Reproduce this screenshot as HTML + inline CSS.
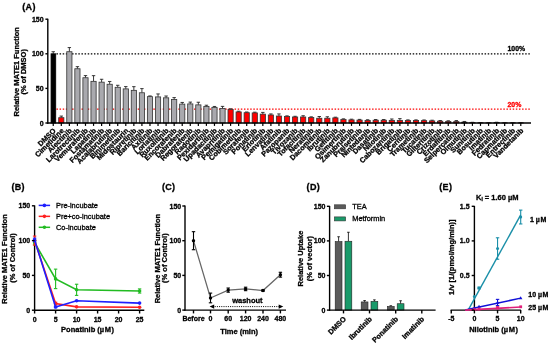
<!DOCTYPE html>
<html><head><meta charset="utf-8"><style>
html,body{margin:0;padding:0;background:#fff;width:550px;height:344px;overflow:hidden}
svg{display:block}
text{font-family:"Liberation Sans", Arial, Helvetica, sans-serif;stroke:currentColor;stroke-width:0.3px;paint-order:stroke}
</style></head><body>
<svg width="550" height="344" viewBox="0 0 550 344">
<rect width="550" height="344" fill="#fff"/>
<line x1="56.45" y1="53.80" x2="529.80" y2="53.80" stroke="#000" stroke-width="1.2" stroke-dasharray="1.5 1.625"/>
<line x1="56.45" y1="109.16" x2="529.80" y2="109.16" stroke="#ff0000" stroke-width="1.2" stroke-dasharray="1.5 1.625"/>
<text x="507.50" y="51.40" font-size="6.9" text-anchor="start" font-weight="bold" fill="#000" color="#000" >100%</text>
<text x="507.50" y="106.60" font-size="6.9" text-anchor="start" font-weight="bold" fill="#ff0000" color="#ff0000" >20%</text>
<line x1="53.24" y1="53.80" x2="53.24" y2="51.72" stroke="#222" stroke-width="0.9" />
<line x1="51.54" y1="51.72" x2="54.94" y2="51.72" stroke="#222" stroke-width="0.9" />
<rect x="51.04" y="53.80" width="4.70" height="69.20" fill="#000" stroke="#000" stroke-width="0.8"/>
<line x1="53.24" y1="123.00" x2="53.24" y2="125.90" stroke="#000" stroke-width="1.2" />
<text transform="translate(56.24,131.2) rotate(-45)" font-size="7.3" text-anchor="end" font-weight="bold">DMSO</text>
<line x1="61.30" y1="117.67" x2="61.30" y2="116.08" stroke="#222" stroke-width="0.9" />
<line x1="59.60" y1="116.08" x2="63.00" y2="116.08" stroke="#222" stroke-width="0.9" />
<rect x="58.70" y="117.67" width="5.20" height="5.33" fill="#ff0000" stroke="#333" stroke-width="0.8"/>
<line x1="61.30" y1="123.00" x2="61.30" y2="125.90" stroke="#000" stroke-width="1.2" />
<text transform="translate(64.30,131.2) rotate(-45)" font-size="7.3" text-anchor="end" font-weight="bold">Cimetidine</text>
<line x1="69.36" y1="51.72" x2="69.36" y2="47.57" stroke="#222" stroke-width="0.9" />
<line x1="67.66" y1="47.57" x2="71.06" y2="47.57" stroke="#222" stroke-width="0.9" />
<rect x="66.76" y="51.72" width="5.20" height="71.28" fill="#a9a9ae" stroke="#333" stroke-width="0.8"/>
<line x1="69.36" y1="123.00" x2="69.36" y2="125.90" stroke="#000" stroke-width="1.2" />
<text transform="translate(72.36,131.2) rotate(-45)" font-size="7.3" text-anchor="end" font-weight="bold">Alectinib</text>
<line x1="77.42" y1="68.75" x2="77.42" y2="66.67" stroke="#222" stroke-width="0.9" />
<line x1="75.72" y1="66.67" x2="79.12" y2="66.67" stroke="#222" stroke-width="0.9" />
<rect x="74.82" y="68.75" width="5.20" height="54.25" fill="#a9a9ae" stroke="#333" stroke-width="0.8"/>
<line x1="77.42" y1="123.00" x2="77.42" y2="125.90" stroke="#000" stroke-width="1.2" />
<text transform="translate(80.42,131.2) rotate(-45)" font-size="7.3" text-anchor="end" font-weight="bold">Larotrectinib</text>
<line x1="85.49" y1="77.74" x2="85.49" y2="75.60" stroke="#222" stroke-width="0.9" />
<line x1="83.79" y1="75.60" x2="87.19" y2="75.60" stroke="#222" stroke-width="0.9" />
<rect x="82.89" y="77.74" width="5.20" height="45.26" fill="#a9a9ae" stroke="#333" stroke-width="0.8"/>
<line x1="85.49" y1="123.00" x2="85.49" y2="125.90" stroke="#000" stroke-width="1.2" />
<text transform="translate(88.49,131.2) rotate(-45)" font-size="7.3" text-anchor="end" font-weight="bold">Vemurafenib</text>
<line x1="93.55" y1="81.34" x2="93.55" y2="75.67" stroke="#222" stroke-width="0.9" />
<line x1="91.85" y1="75.67" x2="95.25" y2="75.67" stroke="#222" stroke-width="0.9" />
<rect x="90.95" y="81.34" width="5.20" height="41.66" fill="#a9a9ae" stroke="#333" stroke-width="0.8"/>
<line x1="93.55" y1="123.00" x2="93.55" y2="125.90" stroke="#000" stroke-width="1.2" />
<text transform="translate(96.55,131.2) rotate(-45)" font-size="7.3" text-anchor="end" font-weight="bold">Lapatinib</text>
<line x1="101.61" y1="82.17" x2="101.61" y2="79.27" stroke="#222" stroke-width="0.9" />
<line x1="99.91" y1="79.27" x2="103.31" y2="79.27" stroke="#222" stroke-width="0.9" />
<rect x="99.01" y="82.17" width="5.20" height="40.83" fill="#a9a9ae" stroke="#333" stroke-width="0.8"/>
<line x1="101.61" y1="123.00" x2="101.61" y2="125.90" stroke="#000" stroke-width="1.2" />
<text transform="translate(104.61,131.2) rotate(-45)" font-size="7.3" text-anchor="end" font-weight="bold">Fostamatinib</text>
<line x1="109.67" y1="84.25" x2="109.67" y2="81.48" stroke="#222" stroke-width="0.9" />
<line x1="107.97" y1="81.48" x2="111.37" y2="81.48" stroke="#222" stroke-width="0.9" />
<rect x="107.07" y="84.25" width="5.20" height="38.75" fill="#a9a9ae" stroke="#333" stroke-width="0.8"/>
<line x1="109.67" y1="123.00" x2="109.67" y2="125.90" stroke="#000" stroke-width="1.2" />
<text transform="translate(112.67,131.2) rotate(-45)" font-size="7.3" text-anchor="end" font-weight="bold">Acalabrutinib</text>
<line x1="117.73" y1="87.29" x2="117.73" y2="85.29" stroke="#222" stroke-width="0.9" />
<line x1="116.03" y1="85.29" x2="119.43" y2="85.29" stroke="#222" stroke-width="0.9" />
<rect x="115.13" y="87.29" width="5.20" height="35.71" fill="#a9a9ae" stroke="#333" stroke-width="0.8"/>
<line x1="117.73" y1="123.00" x2="117.73" y2="125.90" stroke="#000" stroke-width="1.2" />
<text transform="translate(120.73,131.2) rotate(-45)" font-size="7.3" text-anchor="end" font-weight="bold">Binimetinib</text>
<line x1="125.79" y1="88.88" x2="125.79" y2="86.60" stroke="#222" stroke-width="0.9" />
<line x1="124.09" y1="86.60" x2="127.49" y2="86.60" stroke="#222" stroke-width="0.9" />
<rect x="123.19" y="88.88" width="5.20" height="34.12" fill="#a9a9ae" stroke="#333" stroke-width="0.8"/>
<line x1="125.79" y1="123.00" x2="125.79" y2="125.90" stroke="#000" stroke-width="1.2" />
<text transform="translate(128.79,131.2) rotate(-45)" font-size="7.3" text-anchor="end" font-weight="bold">Midostaurin</text>
<line x1="133.85" y1="90.34" x2="133.85" y2="86.67" stroke="#222" stroke-width="0.9" />
<line x1="132.15" y1="86.67" x2="135.55" y2="86.67" stroke="#222" stroke-width="0.9" />
<rect x="131.25" y="90.34" width="5.20" height="32.66" fill="#a9a9ae" stroke="#333" stroke-width="0.8"/>
<line x1="133.85" y1="123.00" x2="133.85" y2="125.90" stroke="#000" stroke-width="1.2" />
<text transform="translate(136.85,131.2) rotate(-45)" font-size="7.3" text-anchor="end" font-weight="bold">Ripretinib</text>
<line x1="141.92" y1="92.76" x2="141.92" y2="88.61" stroke="#222" stroke-width="0.9" />
<line x1="140.22" y1="88.61" x2="143.62" y2="88.61" stroke="#222" stroke-width="0.9" />
<rect x="139.32" y="92.76" width="5.20" height="30.24" fill="#a9a9ae" stroke="#333" stroke-width="0.8"/>
<line x1="141.92" y1="123.00" x2="141.92" y2="125.90" stroke="#000" stroke-width="1.2" />
<text transform="translate(144.92,131.2) rotate(-45)" font-size="7.3" text-anchor="end" font-weight="bold">Baricitinib</text>
<line x1="149.98" y1="96.63" x2="149.98" y2="95.94" stroke="#222" stroke-width="0.9" />
<line x1="148.28" y1="95.94" x2="151.68" y2="95.94" stroke="#222" stroke-width="0.9" />
<rect x="147.38" y="96.63" width="5.20" height="26.37" fill="#a9a9ae" stroke="#333" stroke-width="0.8"/>
<line x1="149.98" y1="123.00" x2="149.98" y2="125.90" stroke="#000" stroke-width="1.2" />
<text transform="translate(152.98,131.2) rotate(-45)" font-size="7.3" text-anchor="end" font-weight="bold">Axitinib</text>
<line x1="158.04" y1="96.91" x2="158.04" y2="93.94" stroke="#222" stroke-width="0.9" />
<line x1="156.34" y1="93.94" x2="159.74" y2="93.94" stroke="#222" stroke-width="0.9" />
<rect x="155.44" y="96.91" width="5.20" height="26.09" fill="#a9a9ae" stroke="#333" stroke-width="0.8"/>
<line x1="158.04" y1="123.00" x2="158.04" y2="125.90" stroke="#000" stroke-width="1.2" />
<text transform="translate(161.04,131.2) rotate(-45)" font-size="7.3" text-anchor="end" font-weight="bold">Lorlatinib</text>
<line x1="166.10" y1="97.81" x2="166.10" y2="96.01" stroke="#222" stroke-width="0.9" />
<line x1="164.40" y1="96.01" x2="167.80" y2="96.01" stroke="#222" stroke-width="0.9" />
<rect x="163.50" y="97.81" width="5.20" height="25.19" fill="#a9a9ae" stroke="#333" stroke-width="0.8"/>
<line x1="166.10" y1="123.00" x2="166.10" y2="125.90" stroke="#000" stroke-width="1.2" />
<text transform="translate(169.10,131.2) rotate(-45)" font-size="7.3" text-anchor="end" font-weight="bold">Ruxolitinib</text>
<line x1="174.16" y1="99.54" x2="174.16" y2="97.60" stroke="#222" stroke-width="0.9" />
<line x1="172.46" y1="97.60" x2="175.86" y2="97.60" stroke="#222" stroke-width="0.9" />
<rect x="171.56" y="99.54" width="5.20" height="23.46" fill="#a9a9ae" stroke="#333" stroke-width="0.8"/>
<line x1="174.16" y1="123.00" x2="174.16" y2="125.90" stroke="#000" stroke-width="1.2" />
<text transform="translate(177.16,131.2) rotate(-45)" font-size="7.3" text-anchor="end" font-weight="bold">Encorafenib</text>
<line x1="182.22" y1="104.11" x2="182.22" y2="102.45" stroke="#222" stroke-width="0.9" />
<line x1="180.52" y1="102.45" x2="183.92" y2="102.45" stroke="#222" stroke-width="0.9" />
<rect x="179.62" y="104.11" width="5.20" height="18.89" fill="#a9a9ae" stroke="#333" stroke-width="0.8"/>
<line x1="182.22" y1="123.00" x2="182.22" y2="125.90" stroke="#000" stroke-width="1.2" />
<text transform="translate(185.22,131.2) rotate(-45)" font-size="7.3" text-anchor="end" font-weight="bold">Dabrafenib</text>
<line x1="190.28" y1="103.90" x2="190.28" y2="102.10" stroke="#222" stroke-width="0.9" />
<line x1="188.58" y1="102.10" x2="191.98" y2="102.10" stroke="#222" stroke-width="0.9" />
<rect x="187.68" y="103.90" width="5.20" height="19.10" fill="#a9a9ae" stroke="#333" stroke-width="0.8"/>
<line x1="190.28" y1="123.00" x2="190.28" y2="125.90" stroke="#000" stroke-width="1.2" />
<text transform="translate(193.28,131.2) rotate(-45)" font-size="7.3" text-anchor="end" font-weight="bold">Regorafenib</text>
<line x1="198.34" y1="104.87" x2="198.34" y2="102.24" stroke="#222" stroke-width="0.9" />
<line x1="196.64" y1="102.24" x2="200.04" y2="102.24" stroke="#222" stroke-width="0.9" />
<rect x="195.74" y="104.87" width="5.20" height="18.13" fill="#a9a9ae" stroke="#333" stroke-width="0.8"/>
<line x1="198.34" y1="123.00" x2="198.34" y2="125.90" stroke="#000" stroke-width="1.2" />
<text transform="translate(201.34,131.2) rotate(-45)" font-size="7.3" text-anchor="end" font-weight="bold">Radotinib</text>
<line x1="206.41" y1="106.46" x2="206.41" y2="105.22" stroke="#222" stroke-width="0.9" />
<line x1="204.71" y1="105.22" x2="208.11" y2="105.22" stroke="#222" stroke-width="0.9" />
<rect x="203.81" y="106.46" width="5.20" height="16.54" fill="#a9a9ae" stroke="#333" stroke-width="0.8"/>
<line x1="206.41" y1="123.00" x2="206.41" y2="125.90" stroke="#000" stroke-width="1.2" />
<text transform="translate(209.41,131.2) rotate(-45)" font-size="7.3" text-anchor="end" font-weight="bold">Pexidartinib</text>
<line x1="214.47" y1="107.36" x2="214.47" y2="106.46" stroke="#222" stroke-width="0.9" />
<line x1="212.77" y1="106.46" x2="216.17" y2="106.46" stroke="#222" stroke-width="0.9" />
<rect x="211.87" y="107.36" width="5.20" height="15.64" fill="#a9a9ae" stroke="#333" stroke-width="0.8"/>
<line x1="214.47" y1="123.00" x2="214.47" y2="125.90" stroke="#000" stroke-width="1.2" />
<text transform="translate(217.47,131.2) rotate(-45)" font-size="7.3" text-anchor="end" font-weight="bold">Upadacitinib</text>
<line x1="222.53" y1="108.47" x2="222.53" y2="106.39" stroke="#222" stroke-width="0.9" />
<line x1="220.83" y1="106.39" x2="224.23" y2="106.39" stroke="#222" stroke-width="0.9" />
<rect x="219.93" y="108.47" width="5.20" height="14.53" fill="#a9a9ae" stroke="#333" stroke-width="0.8"/>
<line x1="222.53" y1="123.00" x2="222.53" y2="125.90" stroke="#000" stroke-width="1.2" />
<text transform="translate(225.53,131.2) rotate(-45)" font-size="7.3" text-anchor="end" font-weight="bold">Avapritinib</text>
<line x1="230.59" y1="109.51" x2="230.59" y2="108.81" stroke="#222" stroke-width="0.9" />
<line x1="228.89" y1="108.81" x2="232.29" y2="108.81" stroke="#222" stroke-width="0.9" />
<rect x="227.99" y="109.51" width="5.20" height="13.49" fill="#ff0000" stroke="#333" stroke-width="0.8"/>
<line x1="230.59" y1="123.00" x2="230.59" y2="125.90" stroke="#000" stroke-width="1.2" />
<text transform="translate(233.59,131.2) rotate(-45)" font-size="7.3" text-anchor="end" font-weight="bold">Pemigatinib</text>
<line x1="238.65" y1="111.93" x2="238.65" y2="111.24" stroke="#222" stroke-width="0.9" />
<line x1="236.95" y1="111.24" x2="240.35" y2="111.24" stroke="#222" stroke-width="0.9" />
<rect x="236.05" y="111.93" width="5.20" height="11.07" fill="#ff0000" stroke="#333" stroke-width="0.8"/>
<line x1="238.65" y1="123.00" x2="238.65" y2="125.90" stroke="#000" stroke-width="1.2" />
<text transform="translate(241.65,131.2) rotate(-45)" font-size="7.3" text-anchor="end" font-weight="bold">Cobimetinib</text>
<line x1="246.71" y1="112.69" x2="246.71" y2="112.00" stroke="#222" stroke-width="0.9" />
<line x1="245.01" y1="112.00" x2="248.41" y2="112.00" stroke="#222" stroke-width="0.9" />
<rect x="244.11" y="112.69" width="5.20" height="10.31" fill="#ff0000" stroke="#333" stroke-width="0.8"/>
<line x1="246.71" y1="123.00" x2="246.71" y2="125.90" stroke="#000" stroke-width="1.2" />
<text transform="translate(249.71,131.2) rotate(-45)" font-size="7.3" text-anchor="end" font-weight="bold">Sorafenib</text>
<line x1="254.77" y1="112.90" x2="254.77" y2="112.20" stroke="#222" stroke-width="0.9" />
<line x1="253.07" y1="112.20" x2="256.47" y2="112.20" stroke="#222" stroke-width="0.9" />
<rect x="252.17" y="112.90" width="5.20" height="10.10" fill="#ff0000" stroke="#333" stroke-width="0.8"/>
<line x1="254.77" y1="123.00" x2="254.77" y2="125.90" stroke="#000" stroke-width="1.2" />
<text transform="translate(257.77,131.2) rotate(-45)" font-size="7.3" text-anchor="end" font-weight="bold">Ponatinib</text>
<line x1="262.84" y1="114.14" x2="262.84" y2="112.41" stroke="#222" stroke-width="0.9" />
<line x1="261.14" y1="112.41" x2="264.54" y2="112.41" stroke="#222" stroke-width="0.9" />
<rect x="260.24" y="114.14" width="5.20" height="8.86" fill="#ff0000" stroke="#333" stroke-width="0.8"/>
<line x1="262.84" y1="123.00" x2="262.84" y2="125.90" stroke="#000" stroke-width="1.2" />
<text transform="translate(265.84,131.2) rotate(-45)" font-size="7.3" text-anchor="end" font-weight="bold">Erlotinib</text>
<line x1="270.90" y1="114.97" x2="270.90" y2="113.93" stroke="#222" stroke-width="0.9" />
<line x1="269.20" y1="113.93" x2="272.60" y2="113.93" stroke="#222" stroke-width="0.9" />
<rect x="268.30" y="114.97" width="5.20" height="8.03" fill="#ff0000" stroke="#333" stroke-width="0.8"/>
<line x1="270.90" y1="123.00" x2="270.90" y2="125.90" stroke="#000" stroke-width="1.2" />
<text transform="translate(273.90,131.2) rotate(-45)" font-size="7.3" text-anchor="end" font-weight="bold">Lenvatinib</text>
<line x1="278.96" y1="116.01" x2="278.96" y2="113.93" stroke="#222" stroke-width="0.9" />
<line x1="277.26" y1="113.93" x2="280.66" y2="113.93" stroke="#222" stroke-width="0.9" />
<rect x="276.36" y="116.01" width="5.20" height="6.99" fill="#ff0000" stroke="#333" stroke-width="0.8"/>
<line x1="278.96" y1="123.00" x2="278.96" y2="125.90" stroke="#000" stroke-width="1.2" />
<text transform="translate(281.96,131.2) rotate(-45)" font-size="7.3" text-anchor="end" font-weight="bold">Afatinib</text>
<line x1="287.02" y1="116.56" x2="287.02" y2="115.87" stroke="#222" stroke-width="0.9" />
<line x1="285.32" y1="115.87" x2="288.72" y2="115.87" stroke="#222" stroke-width="0.9" />
<rect x="284.42" y="116.56" width="5.20" height="6.44" fill="#ff0000" stroke="#333" stroke-width="0.8"/>
<line x1="287.02" y1="123.00" x2="287.02" y2="125.90" stroke="#000" stroke-width="1.2" />
<text transform="translate(290.02,131.2) rotate(-45)" font-size="7.3" text-anchor="end" font-weight="bold">Pazopanib</text>
<line x1="295.08" y1="116.98" x2="295.08" y2="116.29" stroke="#222" stroke-width="0.9" />
<line x1="293.38" y1="116.29" x2="296.78" y2="116.29" stroke="#222" stroke-width="0.9" />
<rect x="292.48" y="116.98" width="5.20" height="6.02" fill="#ff0000" stroke="#333" stroke-width="0.8"/>
<line x1="295.08" y1="123.00" x2="295.08" y2="125.90" stroke="#000" stroke-width="1.2" />
<text transform="translate(298.08,131.2) rotate(-45)" font-size="7.3" text-anchor="end" font-weight="bold">Tivozanib</text>
<line x1="303.14" y1="116.98" x2="303.14" y2="115.73" stroke="#222" stroke-width="0.9" />
<line x1="301.44" y1="115.73" x2="304.84" y2="115.73" stroke="#222" stroke-width="0.9" />
<rect x="300.54" y="116.98" width="5.20" height="6.02" fill="#ff0000" stroke="#333" stroke-width="0.8"/>
<line x1="303.14" y1="123.00" x2="303.14" y2="125.90" stroke="#000" stroke-width="1.2" />
<text transform="translate(306.14,131.2) rotate(-45)" font-size="7.3" text-anchor="end" font-weight="bold">Tofacitinib</text>
<line x1="311.20" y1="117.53" x2="311.20" y2="116.84" stroke="#222" stroke-width="0.9" />
<line x1="309.50" y1="116.84" x2="312.90" y2="116.84" stroke="#222" stroke-width="0.9" />
<rect x="308.60" y="117.53" width="5.20" height="5.47" fill="#ff0000" stroke="#333" stroke-width="0.8"/>
<line x1="311.20" y1="123.00" x2="311.20" y2="125.90" stroke="#000" stroke-width="1.2" />
<text transform="translate(314.20,131.2) rotate(-45)" font-size="7.3" text-anchor="end" font-weight="bold">Neratinib</text>
<line x1="319.27" y1="118.23" x2="319.27" y2="116.50" stroke="#222" stroke-width="0.9" />
<line x1="317.57" y1="116.50" x2="320.97" y2="116.50" stroke="#222" stroke-width="0.9" />
<rect x="316.67" y="118.23" width="5.20" height="4.77" fill="#ff0000" stroke="#333" stroke-width="0.8"/>
<line x1="319.27" y1="123.00" x2="319.27" y2="125.90" stroke="#000" stroke-width="1.2" />
<text transform="translate(322.27,131.2) rotate(-45)" font-size="7.3" text-anchor="end" font-weight="bold">Dacomitinib</text>
<line x1="327.33" y1="118.23" x2="327.33" y2="116.77" stroke="#222" stroke-width="0.9" />
<line x1="325.63" y1="116.77" x2="329.03" y2="116.77" stroke="#222" stroke-width="0.9" />
<rect x="324.73" y="118.23" width="5.20" height="4.77" fill="#ff0000" stroke="#333" stroke-width="0.8"/>
<line x1="327.33" y1="123.00" x2="327.33" y2="125.90" stroke="#000" stroke-width="1.2" />
<text transform="translate(330.33,131.2) rotate(-45)" font-size="7.3" text-anchor="end" font-weight="bold">Ibrutinib</text>
<line x1="335.39" y1="117.88" x2="335.39" y2="117.19" stroke="#222" stroke-width="0.9" />
<line x1="333.69" y1="117.19" x2="337.09" y2="117.19" stroke="#222" stroke-width="0.9" />
<rect x="332.79" y="117.88" width="5.20" height="5.12" fill="#ff0000" stroke="#333" stroke-width="0.8"/>
<line x1="335.39" y1="123.00" x2="335.39" y2="125.90" stroke="#000" stroke-width="1.2" />
<text transform="translate(338.39,131.2) rotate(-45)" font-size="7.3" text-anchor="end" font-weight="bold">Gefitinib</text>
<line x1="343.45" y1="119.54" x2="343.45" y2="118.85" stroke="#222" stroke-width="0.9" />
<line x1="341.75" y1="118.85" x2="345.15" y2="118.85" stroke="#222" stroke-width="0.9" />
<rect x="340.85" y="119.54" width="5.20" height="3.46" fill="#ff0000" stroke="#333" stroke-width="0.8"/>
<line x1="343.45" y1="123.00" x2="343.45" y2="125.90" stroke="#000" stroke-width="1.2" />
<text transform="translate(346.45,131.2) rotate(-45)" font-size="7.3" text-anchor="end" font-weight="bold">Osimertinib</text>
<line x1="351.51" y1="119.89" x2="351.51" y2="119.19" stroke="#222" stroke-width="0.9" />
<line x1="349.81" y1="119.19" x2="353.21" y2="119.19" stroke="#222" stroke-width="0.9" />
<rect x="348.91" y="119.89" width="5.20" height="3.11" fill="#ff0000" stroke="#333" stroke-width="0.8"/>
<line x1="351.51" y1="123.00" x2="351.51" y2="125.90" stroke="#000" stroke-width="1.2" />
<text transform="translate(354.51,131.2) rotate(-45)" font-size="7.3" text-anchor="end" font-weight="bold">Zanubrutinib</text>
<line x1="359.57" y1="120.09" x2="359.57" y2="119.40" stroke="#222" stroke-width="0.9" />
<line x1="357.87" y1="119.40" x2="361.27" y2="119.40" stroke="#222" stroke-width="0.9" />
<rect x="356.97" y="120.09" width="5.20" height="2.91" fill="#ff0000" stroke="#333" stroke-width="0.8"/>
<line x1="359.57" y1="123.00" x2="359.57" y2="125.90" stroke="#000" stroke-width="1.2" />
<text transform="translate(362.57,131.2) rotate(-45)" font-size="7.3" text-anchor="end" font-weight="bold">Pralsetinib</text>
<line x1="367.63" y1="120.44" x2="367.63" y2="119.75" stroke="#222" stroke-width="0.9" />
<line x1="365.93" y1="119.75" x2="369.33" y2="119.75" stroke="#222" stroke-width="0.9" />
<rect x="365.03" y="120.44" width="5.20" height="2.56" fill="#ff0000" stroke="#333" stroke-width="0.8"/>
<line x1="367.63" y1="123.00" x2="367.63" y2="125.90" stroke="#000" stroke-width="1.2" />
<text transform="translate(370.63,131.2) rotate(-45)" font-size="7.3" text-anchor="end" font-weight="bold">Nintedanib</text>
<line x1="375.70" y1="120.23" x2="375.70" y2="119.54" stroke="#222" stroke-width="0.9" />
<line x1="374.00" y1="119.54" x2="377.40" y2="119.54" stroke="#222" stroke-width="0.9" />
<rect x="373.10" y="120.23" width="5.20" height="2.77" fill="#ff0000" stroke="#333" stroke-width="0.8"/>
<line x1="375.70" y1="123.00" x2="375.70" y2="125.90" stroke="#000" stroke-width="1.2" />
<text transform="translate(378.70,131.2) rotate(-45)" font-size="7.3" text-anchor="end" font-weight="bold">Dasatinib</text>
<line x1="383.76" y1="120.23" x2="383.76" y2="119.54" stroke="#222" stroke-width="0.9" />
<line x1="382.06" y1="119.54" x2="385.46" y2="119.54" stroke="#222" stroke-width="0.9" />
<rect x="381.16" y="120.23" width="5.20" height="2.77" fill="#ff0000" stroke="#333" stroke-width="0.8"/>
<line x1="383.76" y1="123.00" x2="383.76" y2="125.90" stroke="#000" stroke-width="1.2" />
<text transform="translate(386.76,131.2) rotate(-45)" font-size="7.3" text-anchor="end" font-weight="bold">Nilotinib</text>
<line x1="391.82" y1="120.37" x2="391.82" y2="118.99" stroke="#222" stroke-width="0.9" />
<line x1="390.12" y1="118.99" x2="393.52" y2="118.99" stroke="#222" stroke-width="0.9" />
<rect x="389.22" y="120.37" width="5.20" height="2.63" fill="#ff0000" stroke="#333" stroke-width="0.8"/>
<line x1="391.82" y1="123.00" x2="391.82" y2="125.90" stroke="#000" stroke-width="1.2" />
<text transform="translate(394.82,131.2) rotate(-45)" font-size="7.3" text-anchor="end" font-weight="bold">Cabozantinib</text>
<line x1="399.88" y1="120.37" x2="399.88" y2="118.64" stroke="#222" stroke-width="0.9" />
<line x1="398.18" y1="118.64" x2="401.58" y2="118.64" stroke="#222" stroke-width="0.9" />
<rect x="397.28" y="120.37" width="5.20" height="2.63" fill="#ff0000" stroke="#333" stroke-width="0.8"/>
<line x1="399.88" y1="123.00" x2="399.88" y2="125.90" stroke="#000" stroke-width="1.2" />
<text transform="translate(402.88,131.2) rotate(-45)" font-size="7.3" text-anchor="end" font-weight="bold">Brigatinib</text>
<line x1="407.94" y1="120.58" x2="407.94" y2="119.89" stroke="#222" stroke-width="0.9" />
<line x1="406.24" y1="119.89" x2="409.64" y2="119.89" stroke="#222" stroke-width="0.9" />
<rect x="405.34" y="120.58" width="5.20" height="2.42" fill="#ff0000" stroke="#333" stroke-width="0.8"/>
<line x1="407.94" y1="123.00" x2="407.94" y2="125.90" stroke="#000" stroke-width="1.2" />
<text transform="translate(410.94,131.2) rotate(-45)" font-size="7.3" text-anchor="end" font-weight="bold">Ceritinib</text>
<line x1="416.00" y1="120.58" x2="416.00" y2="119.89" stroke="#222" stroke-width="0.9" />
<line x1="414.30" y1="119.89" x2="417.70" y2="119.89" stroke="#222" stroke-width="0.9" />
<rect x="413.40" y="120.58" width="5.20" height="2.42" fill="#ff0000" stroke="#333" stroke-width="0.8"/>
<line x1="416.00" y1="123.00" x2="416.00" y2="125.90" stroke="#000" stroke-width="1.2" />
<text transform="translate(419.00,131.2) rotate(-45)" font-size="7.3" text-anchor="end" font-weight="bold">Trametinib</text>
<line x1="424.06" y1="120.65" x2="424.06" y2="119.96" stroke="#222" stroke-width="0.9" />
<line x1="422.36" y1="119.96" x2="425.76" y2="119.96" stroke="#222" stroke-width="0.9" />
<rect x="421.46" y="120.65" width="5.20" height="2.35" fill="#ff0000" stroke="#333" stroke-width="0.8"/>
<line x1="424.06" y1="123.00" x2="424.06" y2="125.90" stroke="#000" stroke-width="1.2" />
<text transform="translate(427.06,131.2) rotate(-45)" font-size="7.3" text-anchor="end" font-weight="bold">Tucatinib</text>
<line x1="432.12" y1="120.92" x2="432.12" y2="120.23" stroke="#222" stroke-width="0.9" />
<line x1="430.42" y1="120.23" x2="433.82" y2="120.23" stroke="#222" stroke-width="0.9" />
<rect x="429.52" y="120.92" width="5.20" height="2.08" fill="#ff0000" stroke="#333" stroke-width="0.8"/>
<line x1="432.12" y1="123.00" x2="432.12" y2="125.90" stroke="#000" stroke-width="1.2" />
<text transform="translate(435.12,131.2) rotate(-45)" font-size="7.3" text-anchor="end" font-weight="bold">Gilteritinib</text>
<line x1="440.19" y1="121.20" x2="440.19" y2="120.51" stroke="#222" stroke-width="0.9" />
<line x1="438.49" y1="120.51" x2="441.89" y2="120.51" stroke="#222" stroke-width="0.9" />
<rect x="437.59" y="121.20" width="5.20" height="1.80" fill="#ff0000" stroke="#333" stroke-width="0.8"/>
<line x1="440.19" y1="123.00" x2="440.19" y2="125.90" stroke="#000" stroke-width="1.2" />
<text transform="translate(443.19,131.2) rotate(-45)" font-size="7.3" text-anchor="end" font-weight="bold">Crizotinib</text>
<line x1="448.25" y1="121.48" x2="448.25" y2="120.79" stroke="#222" stroke-width="0.9" />
<line x1="446.55" y1="120.79" x2="449.95" y2="120.79" stroke="#222" stroke-width="0.9" />
<rect x="445.65" y="121.48" width="5.20" height="1.52" fill="#ff0000" stroke="#333" stroke-width="0.8"/>
<line x1="448.25" y1="123.00" x2="448.25" y2="125.90" stroke="#000" stroke-width="1.2" />
<text transform="translate(451.25,131.2) rotate(-45)" font-size="7.3" text-anchor="end" font-weight="bold">Erdafitinib</text>
<line x1="456.31" y1="121.62" x2="456.31" y2="120.58" stroke="#222" stroke-width="0.9" />
<line x1="454.61" y1="120.58" x2="458.01" y2="120.58" stroke="#222" stroke-width="0.9" />
<rect x="453.71" y="121.62" width="5.20" height="1.38" fill="#ff0000" stroke="#333" stroke-width="0.8"/>
<line x1="456.31" y1="123.00" x2="456.31" y2="125.90" stroke="#000" stroke-width="1.2" />
<text transform="translate(459.31,131.2) rotate(-45)" font-size="7.3" text-anchor="end" font-weight="bold">Selpercatinib</text>
<line x1="464.37" y1="122.17" x2="464.37" y2="121.48" stroke="#222" stroke-width="0.9" />
<line x1="462.67" y1="121.48" x2="466.07" y2="121.48" stroke="#222" stroke-width="0.9" />
<rect x="461.77" y="122.17" width="5.20" height="0.83" fill="#ff0000" stroke="#333" stroke-width="0.8"/>
<line x1="464.37" y1="123.00" x2="464.37" y2="125.90" stroke="#000" stroke-width="1.2" />
<text transform="translate(467.37,131.2) rotate(-45)" font-size="7.3" text-anchor="end" font-weight="bold">Olmutinib</text>
<line x1="472.43" y1="122.65" x2="472.43" y2="122.31" stroke="#222" stroke-width="0.9" />
<line x1="470.73" y1="122.31" x2="474.13" y2="122.31" stroke="#222" stroke-width="0.9" />
<rect x="469.83" y="122.65" width="5.20" height="0.35" fill="#ff0000" stroke="#333" stroke-width="0.8"/>
<line x1="472.43" y1="123.00" x2="472.43" y2="125.90" stroke="#000" stroke-width="1.2" />
<text transform="translate(475.43,131.2) rotate(-45)" font-size="7.3" text-anchor="end" font-weight="bold">Sunitinib</text>
<line x1="480.49" y1="122.79" x2="480.49" y2="122.58" stroke="#222" stroke-width="0.9" />
<line x1="478.79" y1="122.58" x2="482.19" y2="122.58" stroke="#222" stroke-width="0.9" />
<rect x="477.89" y="122.79" width="5.20" height="0.21" fill="#ff0000" stroke="#333" stroke-width="0.8"/>
<line x1="480.49" y1="123.00" x2="480.49" y2="125.90" stroke="#000" stroke-width="1.2" />
<text transform="translate(483.49,131.2) rotate(-45)" font-size="7.3" text-anchor="end" font-weight="bold">Bosutinib</text>
<line x1="488.55" y1="122.86" x2="488.55" y2="122.72" stroke="#222" stroke-width="0.9" />
<line x1="486.85" y1="122.72" x2="490.25" y2="122.72" stroke="#222" stroke-width="0.9" />
<rect x="485.95" y="122.86" width="5.20" height="0.14" fill="#ff0000" stroke="#333" stroke-width="0.8"/>
<line x1="488.55" y1="123.00" x2="488.55" y2="125.90" stroke="#000" stroke-width="1.2" />
<text transform="translate(491.55,131.2) rotate(-45)" font-size="7.3" text-anchor="end" font-weight="bold">Imatinib</text>
<line x1="496.62" y1="122.58" x2="496.62" y2="122.24" stroke="#222" stroke-width="0.9" />
<line x1="494.92" y1="122.24" x2="498.32" y2="122.24" stroke="#222" stroke-width="0.9" />
<rect x="494.02" y="122.58" width="5.20" height="0.42" fill="#ff0000" stroke="#333" stroke-width="0.8"/>
<line x1="496.62" y1="123.00" x2="496.62" y2="125.90" stroke="#000" stroke-width="1.2" />
<text transform="translate(499.62,131.2) rotate(-45)" font-size="7.3" text-anchor="end" font-weight="bold">Fedratinib</text>
<line x1="504.68" y1="122.86" x2="504.68" y2="122.72" stroke="#222" stroke-width="0.9" />
<line x1="502.98" y1="122.72" x2="506.38" y2="122.72" stroke="#222" stroke-width="0.9" />
<rect x="502.08" y="122.86" width="5.20" height="0.14" fill="#ff0000" stroke="#333" stroke-width="0.8"/>
<line x1="504.68" y1="123.00" x2="504.68" y2="125.90" stroke="#000" stroke-width="1.2" />
<text transform="translate(507.68,131.2) rotate(-45)" font-size="7.3" text-anchor="end" font-weight="bold">Capmatinib</text>
<line x1="512.74" y1="122.86" x2="512.74" y2="122.72" stroke="#222" stroke-width="0.9" />
<line x1="511.04" y1="122.72" x2="514.44" y2="122.72" stroke="#222" stroke-width="0.9" />
<rect x="510.14" y="122.86" width="5.20" height="0.14" fill="#ff0000" stroke="#333" stroke-width="0.8"/>
<line x1="512.74" y1="123.00" x2="512.74" y2="125.90" stroke="#000" stroke-width="1.2" />
<text transform="translate(515.74,131.2) rotate(-45)" font-size="7.3" text-anchor="end" font-weight="bold">Entrectinib</text>
<line x1="520.80" y1="122.86" x2="520.80" y2="122.72" stroke="#222" stroke-width="0.9" />
<line x1="519.10" y1="122.72" x2="522.50" y2="122.72" stroke="#222" stroke-width="0.9" />
<rect x="518.20" y="122.86" width="5.20" height="0.14" fill="#ff0000" stroke="#333" stroke-width="0.8"/>
<line x1="520.80" y1="123.00" x2="520.80" y2="125.90" stroke="#000" stroke-width="1.2" />
<text transform="translate(523.80,131.2) rotate(-45)" font-size="7.3" text-anchor="end" font-weight="bold">Vandetanib</text>
<line x1="47.80" y1="18.80" x2="47.80" y2="123.65" stroke="#000" stroke-width="1.4" />
<line x1="47.15" y1="123.00" x2="531.00" y2="123.00" stroke="#000" stroke-width="1.4" />
<line x1="45.40" y1="123.00" x2="47.80" y2="123.00" stroke="#000" stroke-width="1.4" />
<text x="43.60" y="125.55" font-size="7.0" text-anchor="end" font-weight="bold" fill="#000" color="#000" >0</text>
<line x1="45.40" y1="88.40" x2="47.80" y2="88.40" stroke="#000" stroke-width="1.4" />
<text x="43.60" y="90.95" font-size="7.0" text-anchor="end" font-weight="bold" fill="#000" color="#000" >50</text>
<line x1="45.40" y1="53.80" x2="47.80" y2="53.80" stroke="#000" stroke-width="1.4" />
<text x="43.60" y="56.35" font-size="7.0" text-anchor="end" font-weight="bold" fill="#000" color="#000" >100</text>
<line x1="45.40" y1="19.20" x2="47.80" y2="19.20" stroke="#000" stroke-width="1.4" />
<text x="43.60" y="21.75" font-size="7.0" text-anchor="end" font-weight="bold" fill="#000" color="#000" >150</text>
<text transform="translate(18.6,71.8) rotate(-90)" font-size="7.5" text-anchor="middle" font-weight="bold">Relative MATE1 Function</text>
<text transform="translate(25.8,71.8) rotate(-90)" font-size="7.5" text-anchor="middle" font-weight="bold">(% of DMSO)</text>
<text x="22.30" y="9.90" font-size="9.0" text-anchor="start" font-weight="bold" fill="#000" color="#000" letter-spacing="0.3">(A)</text>
<text x="11.40" y="190.40" font-size="9.0" text-anchor="start" font-weight="bold" fill="#000" color="#000" letter-spacing="0.3">(B)</text>
<line x1="38.70" y1="205.40" x2="50.10" y2="205.40" stroke="#1f1fff" stroke-width="1.5" />
<circle cx="44.4" cy="205.40" r="1.8" fill="#1f1fff"/>
<text x="56.00" y="208.00" font-size="7.4" text-anchor="start" font-weight="normal" fill="#000" color="#000" >Pre-incubate</text>
<line x1="38.70" y1="216.35" x2="50.10" y2="216.35" stroke="#ff2020" stroke-width="1.5" />
<circle cx="44.4" cy="216.35" r="1.8" fill="#ff2020"/>
<text x="56.00" y="218.95" font-size="7.4" text-anchor="start" font-weight="normal" fill="#000" color="#000" >Pre+co-incubate</text>
<line x1="38.70" y1="227.30" x2="50.10" y2="227.30" stroke="#22bb22" stroke-width="1.5" />
<circle cx="44.4" cy="227.30" r="1.8" fill="#22bb22"/>
<text x="56.00" y="229.90" font-size="7.4" text-anchor="start" font-weight="normal" fill="#000" color="#000" >Co-incubate</text>
<line x1="34.60" y1="205.40" x2="34.60" y2="310.85" stroke="#000" stroke-width="1.4" />
<line x1="33.95" y1="310.20" x2="144.30" y2="310.20" stroke="#000" stroke-width="1.4" />
<polyline points="34.60,242.69 55.60,278.88 76.60,289.81 139.60,290.99" fill="none" stroke="#22bb22" stroke-width="1.6"/>
<line x1="34.60" y1="240.60" x2="34.60" y2="244.78" stroke="#22bb22" stroke-width="1.1" />
<line x1="32.90" y1="240.60" x2="36.30" y2="240.60" stroke="#22bb22" stroke-width="1.1" />
<line x1="32.90" y1="244.78" x2="36.30" y2="244.78" stroke="#22bb22" stroke-width="1.1" />
<line x1="55.60" y1="269.14" x2="55.60" y2="288.62" stroke="#22bb22" stroke-width="1.1" />
<line x1="53.90" y1="269.14" x2="57.30" y2="269.14" stroke="#22bb22" stroke-width="1.1" />
<line x1="53.90" y1="288.62" x2="57.30" y2="288.62" stroke="#22bb22" stroke-width="1.1" />
<line x1="76.60" y1="284.24" x2="76.60" y2="295.38" stroke="#22bb22" stroke-width="1.1" />
<line x1="74.90" y1="284.24" x2="78.30" y2="284.24" stroke="#22bb22" stroke-width="1.1" />
<line x1="74.90" y1="295.38" x2="78.30" y2="295.38" stroke="#22bb22" stroke-width="1.1" />
<line x1="139.60" y1="288.90" x2="139.60" y2="293.08" stroke="#22bb22" stroke-width="1.1" />
<line x1="137.90" y1="288.90" x2="141.30" y2="288.90" stroke="#22bb22" stroke-width="1.1" />
<line x1="137.90" y1="293.08" x2="141.30" y2="293.08" stroke="#22bb22" stroke-width="1.1" />
<circle cx="34.60" cy="242.69" r="1.8" fill="#22bb22"/>
<circle cx="55.60" cy="278.88" r="1.8" fill="#22bb22"/>
<circle cx="76.60" cy="289.81" r="1.8" fill="#22bb22"/>
<circle cx="139.60" cy="290.99" r="1.8" fill="#22bb22"/>
<polyline points="34.60,240.60 55.60,303.59 76.60,306.86 139.60,307.21" fill="none" stroke="#ff2020" stroke-width="1.6"/>
<line x1="34.60" y1="236.08" x2="34.60" y2="245.12" stroke="#ff2020" stroke-width="1.1" />
<line x1="32.90" y1="236.08" x2="36.30" y2="236.08" stroke="#ff2020" stroke-width="1.1" />
<line x1="32.90" y1="245.12" x2="36.30" y2="245.12" stroke="#ff2020" stroke-width="1.1" />
<line x1="55.60" y1="302.20" x2="55.60" y2="304.98" stroke="#ff2020" stroke-width="1.1" />
<line x1="53.90" y1="302.20" x2="57.30" y2="302.20" stroke="#ff2020" stroke-width="1.1" />
<line x1="53.90" y1="304.98" x2="57.30" y2="304.98" stroke="#ff2020" stroke-width="1.1" />
<circle cx="34.60" cy="240.60" r="1.8" fill="#ff2020"/>
<circle cx="55.60" cy="303.59" r="1.8" fill="#ff2020"/>
<circle cx="76.60" cy="306.86" r="1.8" fill="#ff2020"/>
<circle cx="139.60" cy="307.21" r="1.8" fill="#ff2020"/>
<polyline points="34.60,239.90 55.60,307.07 76.60,300.73 139.60,303.10" fill="none" stroke="#1f1fff" stroke-width="1.6"/>
<line x1="34.60" y1="238.16" x2="34.60" y2="241.64" stroke="#1f1fff" stroke-width="1.1" />
<line x1="32.90" y1="238.16" x2="36.30" y2="238.16" stroke="#1f1fff" stroke-width="1.1" />
<line x1="32.90" y1="241.64" x2="36.30" y2="241.64" stroke="#1f1fff" stroke-width="1.1" />
<line x1="55.60" y1="306.37" x2="55.60" y2="307.76" stroke="#1f1fff" stroke-width="1.1" />
<line x1="53.90" y1="306.37" x2="57.30" y2="306.37" stroke="#1f1fff" stroke-width="1.1" />
<line x1="53.90" y1="307.76" x2="57.30" y2="307.76" stroke="#1f1fff" stroke-width="1.1" />
<circle cx="34.60" cy="239.90" r="1.8" fill="#1f1fff"/>
<circle cx="55.60" cy="307.07" r="1.8" fill="#1f1fff"/>
<circle cx="76.60" cy="300.73" r="1.8" fill="#1f1fff"/>
<circle cx="139.60" cy="303.10" r="1.8" fill="#1f1fff"/>
<line x1="31.90" y1="310.20" x2="34.60" y2="310.20" stroke="#000" stroke-width="1.4" />
<text x="30.20" y="312.75" font-size="7.0" text-anchor="end" font-weight="bold" fill="#000" color="#000" >0</text>
<line x1="31.90" y1="275.40" x2="34.60" y2="275.40" stroke="#000" stroke-width="1.4" />
<text x="30.20" y="277.95" font-size="7.0" text-anchor="end" font-weight="bold" fill="#000" color="#000" >50</text>
<line x1="31.90" y1="240.60" x2="34.60" y2="240.60" stroke="#000" stroke-width="1.4" />
<text x="30.20" y="243.15" font-size="7.0" text-anchor="end" font-weight="bold" fill="#000" color="#000" >100</text>
<line x1="31.90" y1="205.80" x2="34.60" y2="205.80" stroke="#000" stroke-width="1.4" />
<text x="30.20" y="208.35" font-size="7.0" text-anchor="end" font-weight="bold" fill="#000" color="#000" >150</text>
<line x1="34.60" y1="310.20" x2="34.60" y2="313.50" stroke="#000" stroke-width="1.4" />
<text x="34.60" y="322.00" font-size="7.0" text-anchor="middle" font-weight="bold" fill="#000" color="#000" >0</text>
<line x1="55.60" y1="310.20" x2="55.60" y2="313.50" stroke="#000" stroke-width="1.4" />
<text x="55.60" y="322.00" font-size="7.0" text-anchor="middle" font-weight="bold" fill="#000" color="#000" >5</text>
<line x1="76.60" y1="310.20" x2="76.60" y2="313.50" stroke="#000" stroke-width="1.4" />
<text x="76.60" y="322.00" font-size="7.0" text-anchor="middle" font-weight="bold" fill="#000" color="#000" >10</text>
<line x1="97.60" y1="310.20" x2="97.60" y2="313.50" stroke="#000" stroke-width="1.4" />
<text x="97.60" y="322.00" font-size="7.0" text-anchor="middle" font-weight="bold" fill="#000" color="#000" >15</text>
<line x1="118.60" y1="310.20" x2="118.60" y2="313.50" stroke="#000" stroke-width="1.4" />
<text x="118.60" y="322.00" font-size="7.0" text-anchor="middle" font-weight="bold" fill="#000" color="#000" >20</text>
<line x1="139.60" y1="310.20" x2="139.60" y2="313.50" stroke="#000" stroke-width="1.4" />
<text x="139.60" y="322.00" font-size="7.0" text-anchor="middle" font-weight="bold" fill="#000" color="#000" >25</text>
<text x="87.60" y="331.60" font-size="7.5" text-anchor="middle" font-weight="bold" fill="#000" color="#000" >Ponatinib (<tspan letter-spacing="0.6">µM</tspan>)</text>
<text transform="translate(7.4,259) rotate(-90)" font-size="7.5" text-anchor="middle" font-weight="bold">Relative MATE1 Function</text>
<text transform="translate(15.4,258) rotate(-90)" font-size="7.5" text-anchor="middle" font-weight="bold">(% of Control)</text>
<text x="162.00" y="190.40" font-size="9.0" text-anchor="start" font-weight="bold" fill="#000" color="#000" letter-spacing="0.3">(C)</text>
<polyline points="193.50,240.70 210.50,297.96 228.20,290.11 245.60,288.93 263.00,290.53 280.40,274.71" fill="none" stroke="#666" stroke-width="1.25"/>
<line x1="193.50" y1="231.68" x2="193.50" y2="249.72" stroke="#000" stroke-width="1.1" />
<line x1="191.80" y1="231.68" x2="195.20" y2="231.68" stroke="#000" stroke-width="1.1" />
<line x1="191.80" y1="249.72" x2="195.20" y2="249.72" stroke="#000" stroke-width="1.1" />
<circle cx="193.50" cy="240.70" r="1.7" fill="#000"/>
<line x1="210.50" y1="293.10" x2="210.50" y2="302.81" stroke="#000" stroke-width="1.1" />
<line x1="208.80" y1="293.10" x2="212.20" y2="293.10" stroke="#000" stroke-width="1.1" />
<line x1="208.80" y1="302.81" x2="212.20" y2="302.81" stroke="#000" stroke-width="1.1" />
<circle cx="210.50" cy="297.96" r="1.7" fill="#000"/>
<line x1="228.20" y1="288.03" x2="228.20" y2="292.19" stroke="#000" stroke-width="1.1" />
<line x1="226.50" y1="288.03" x2="229.90" y2="288.03" stroke="#000" stroke-width="1.1" />
<line x1="226.50" y1="292.19" x2="229.90" y2="292.19" stroke="#000" stroke-width="1.1" />
<circle cx="228.20" cy="290.11" r="1.7" fill="#000"/>
<line x1="245.60" y1="287.20" x2="245.60" y2="290.67" stroke="#000" stroke-width="1.1" />
<line x1="243.90" y1="287.20" x2="247.30" y2="287.20" stroke="#000" stroke-width="1.1" />
<line x1="243.90" y1="290.67" x2="247.30" y2="290.67" stroke="#000" stroke-width="1.1" />
<circle cx="245.60" cy="288.93" r="1.7" fill="#000"/>
<line x1="263.00" y1="289.84" x2="263.00" y2="291.22" stroke="#000" stroke-width="1.1" />
<line x1="261.30" y1="289.84" x2="264.70" y2="289.84" stroke="#000" stroke-width="1.1" />
<line x1="261.30" y1="291.22" x2="264.70" y2="291.22" stroke="#000" stroke-width="1.1" />
<circle cx="263.00" cy="290.53" r="1.7" fill="#000"/>
<line x1="280.40" y1="272.28" x2="280.40" y2="277.13" stroke="#000" stroke-width="1.1" />
<line x1="278.70" y1="272.28" x2="282.10" y2="272.28" stroke="#000" stroke-width="1.1" />
<line x1="278.70" y1="277.13" x2="282.10" y2="277.13" stroke="#000" stroke-width="1.1" />
<circle cx="280.40" cy="274.71" r="1.7" fill="#000"/>
<line x1="185.00" y1="205.60" x2="185.00" y2="310.75" stroke="#000" stroke-width="1.4" />
<line x1="184.35" y1="310.10" x2="286.00" y2="310.10" stroke="#000" stroke-width="1.4" />
<line x1="182.30" y1="310.10" x2="185.00" y2="310.10" stroke="#000" stroke-width="1.4" />
<text x="181.20" y="312.65" font-size="7.0" text-anchor="end" font-weight="bold" fill="#000" color="#000" >0</text>
<line x1="182.30" y1="275.40" x2="185.00" y2="275.40" stroke="#000" stroke-width="1.4" />
<text x="181.20" y="277.95" font-size="7.0" text-anchor="end" font-weight="bold" fill="#000" color="#000" >50</text>
<line x1="182.30" y1="240.70" x2="185.00" y2="240.70" stroke="#000" stroke-width="1.4" />
<text x="181.20" y="243.25" font-size="7.0" text-anchor="end" font-weight="bold" fill="#000" color="#000" >100</text>
<line x1="182.30" y1="206.00" x2="185.00" y2="206.00" stroke="#000" stroke-width="1.4" />
<text x="181.20" y="208.55" font-size="7.0" text-anchor="end" font-weight="bold" fill="#000" color="#000" >150</text>
<line x1="193.50" y1="310.10" x2="193.50" y2="313.40" stroke="#000" stroke-width="1.4" />
<text x="193.50" y="321.20" font-size="7.0" text-anchor="middle" font-weight="bold" fill="#000" color="#000" >Before</text>
<line x1="210.50" y1="310.10" x2="210.50" y2="313.40" stroke="#000" stroke-width="1.4" />
<text x="210.50" y="321.20" font-size="7.0" text-anchor="middle" font-weight="bold" fill="#000" color="#000" >0</text>
<line x1="228.20" y1="310.10" x2="228.20" y2="313.40" stroke="#000" stroke-width="1.4" />
<text x="228.20" y="321.20" font-size="7.0" text-anchor="middle" font-weight="bold" fill="#000" color="#000" >60</text>
<line x1="245.60" y1="310.10" x2="245.60" y2="313.40" stroke="#000" stroke-width="1.4" />
<text x="245.60" y="321.20" font-size="7.0" text-anchor="middle" font-weight="bold" fill="#000" color="#000" >120</text>
<line x1="263.00" y1="310.10" x2="263.00" y2="313.40" stroke="#000" stroke-width="1.4" />
<text x="263.00" y="321.20" font-size="7.0" text-anchor="middle" font-weight="bold" fill="#000" color="#000" >240</text>
<line x1="280.40" y1="310.10" x2="280.40" y2="313.40" stroke="#000" stroke-width="1.4" />
<text x="280.40" y="321.20" font-size="7.0" text-anchor="middle" font-weight="bold" fill="#000" color="#000" >480</text>
<text x="239.10" y="334.00" font-size="7.5" text-anchor="middle" font-weight="bold" fill="#000" color="#000" >Time (min)</text>
<text x="247.40" y="303.00" font-size="7.5" text-anchor="middle" font-weight="bold" fill="#000" color="#000" >washout</text>
<line x1="212.50" y1="306.60" x2="281.00" y2="306.60" stroke="#000" stroke-width="1.0" stroke-dasharray="1.0 1.2"/>
<polygon points="209.6,306.6 214.2,304.5 214.2,308.7" fill="#000"/>
<polygon points="283.3,306.6 278.7,304.5 278.7,308.7" fill="#000"/>
<text transform="translate(160.0,258.6) rotate(-90)" font-size="7.5" text-anchor="middle" font-weight="bold">Relative MATE1 Function</text>
<text transform="translate(167.2,258.1) rotate(-90)" font-size="7.5" text-anchor="middle" font-weight="bold">(% of Control)</text>
<text x="306.60" y="190.40" font-size="9.0" text-anchor="start" font-weight="bold" fill="#000" color="#000" letter-spacing="0.3">(D)</text>
<rect x="334.40" y="204.80" width="11.20" height="4.00" fill="#5a5a5a" stroke="#333" stroke-width="0.6"/>
<rect x="334.40" y="216.90" width="11.20" height="4.00" fill="#1a9a6a" stroke="#333" stroke-width="0.6"/>
<text x="352.30" y="209.30" font-size="7.4" text-anchor="start" font-weight="normal" fill="#000" color="#000" >TEA</text>
<text x="352.30" y="221.40" font-size="7.4" text-anchor="start" font-weight="normal" fill="#000" color="#000" >Metformin</text>
<line x1="338.60" y1="241.59" x2="338.60" y2="236.75" stroke="#000" stroke-width="0.8" />
<line x1="337.30" y1="236.75" x2="339.90" y2="236.75" stroke="#000" stroke-width="0.8" />
<rect x="335.20" y="241.59" width="6.80" height="68.51" fill="#5a5a5a" stroke="#222" stroke-width="0.6"/>
<line x1="348.40" y1="241.25" x2="348.40" y2="232.25" stroke="#000" stroke-width="0.8" />
<line x1="347.10" y1="232.25" x2="349.70" y2="232.25" stroke="#000" stroke-width="0.8" />
<rect x="345.00" y="241.25" width="6.80" height="68.85" fill="#1a9a6a" stroke="#222" stroke-width="0.6"/>
<line x1="364.60" y1="301.93" x2="364.60" y2="300.55" stroke="#000" stroke-width="0.8" />
<line x1="363.30" y1="300.55" x2="365.90" y2="300.55" stroke="#000" stroke-width="0.8" />
<rect x="361.20" y="301.93" width="6.80" height="8.17" fill="#5a5a5a" stroke="#222" stroke-width="0.6"/>
<line x1="374.40" y1="301.38" x2="374.40" y2="299.86" stroke="#000" stroke-width="0.8" />
<line x1="373.10" y1="299.86" x2="375.70" y2="299.86" stroke="#000" stroke-width="0.8" />
<rect x="371.00" y="301.38" width="6.80" height="8.72" fill="#1a9a6a" stroke="#222" stroke-width="0.6"/>
<line x1="390.80" y1="306.43" x2="390.80" y2="305.74" stroke="#000" stroke-width="0.8" />
<line x1="389.50" y1="305.74" x2="392.10" y2="305.74" stroke="#000" stroke-width="0.8" />
<rect x="387.40" y="306.43" width="6.80" height="3.67" fill="#5a5a5a" stroke="#222" stroke-width="0.6"/>
<line x1="400.60" y1="303.73" x2="400.60" y2="300.76" stroke="#000" stroke-width="0.8" />
<line x1="399.30" y1="300.76" x2="401.90" y2="300.76" stroke="#000" stroke-width="0.8" />
<rect x="397.20" y="303.73" width="6.80" height="6.37" fill="#1a9a6a" stroke="#222" stroke-width="0.6"/>
<line x1="329.60" y1="205.90" x2="329.60" y2="310.75" stroke="#000" stroke-width="1.4" />
<line x1="328.95" y1="310.10" x2="435.60" y2="310.10" stroke="#000" stroke-width="1.4" />
<line x1="326.90" y1="310.10" x2="329.60" y2="310.10" stroke="#000" stroke-width="1.4" />
<text x="325.50" y="312.65" font-size="7.0" text-anchor="end" font-weight="bold" fill="#000" color="#000" >0</text>
<line x1="326.90" y1="275.50" x2="329.60" y2="275.50" stroke="#000" stroke-width="1.4" />
<text x="325.50" y="278.05" font-size="7.0" text-anchor="end" font-weight="bold" fill="#000" color="#000" >50</text>
<line x1="326.90" y1="240.90" x2="329.60" y2="240.90" stroke="#000" stroke-width="1.4" />
<text x="325.50" y="243.45" font-size="7.0" text-anchor="end" font-weight="bold" fill="#000" color="#000" >100</text>
<line x1="326.90" y1="206.30" x2="329.60" y2="206.30" stroke="#000" stroke-width="1.4" />
<text x="325.50" y="208.85" font-size="7.0" text-anchor="end" font-weight="bold" fill="#000" color="#000" >150</text>
<line x1="343.50" y1="310.10" x2="343.50" y2="313.40" stroke="#000" stroke-width="1.4" />
<text transform="translate(346.40,319.6) rotate(-45)" font-size="7.3" text-anchor="end" font-weight="bold">DMSO</text>
<line x1="369.50" y1="310.10" x2="369.50" y2="313.40" stroke="#000" stroke-width="1.4" />
<text transform="translate(372.40,319.6) rotate(-45)" font-size="7.3" text-anchor="end" font-weight="bold">Ibrutinib</text>
<line x1="395.70" y1="310.10" x2="395.70" y2="313.40" stroke="#000" stroke-width="1.4" />
<text transform="translate(398.60,319.6) rotate(-45)" font-size="7.3" text-anchor="end" font-weight="bold">Ponatinib</text>
<line x1="421.80" y1="310.10" x2="421.80" y2="313.40" stroke="#000" stroke-width="1.4" />
<text transform="translate(424.70,319.6) rotate(-45)" font-size="7.3" text-anchor="end" font-weight="bold">Imatinib</text>
<text transform="translate(303.2,258.6) rotate(-90)" font-size="7.5" text-anchor="middle" font-weight="bold">Relative Uptake</text>
<text transform="translate(311.8,258.6) rotate(-90)" font-size="7.5" text-anchor="middle" font-weight="bold">(% of vector)</text>
<text x="439.30" y="190.40" font-size="9.0" text-anchor="start" font-weight="bold" fill="#000" color="#000" letter-spacing="0.3">(E)</text>
<text x="476.0" y="200.0" font-size="7.5" font-weight="bold">K<tspan font-size="4.8" dy="1.4">i</tspan><tspan dy="-1.4"> = 1.60 µM</tspan></text>
<line x1="474.40" y1="205.90" x2="474.40" y2="310.75" stroke="#000" stroke-width="1.4" />
<line x1="450.60" y1="310.10" x2="520.90" y2="310.10" stroke="#000" stroke-width="1.4" />
<line x1="468.15" y1="310.10" x2="520.70" y2="214.95" stroke="#1a8fa8" stroke-width="1.4" />
<line x1="465.14" y1="310.10" x2="520.70" y2="298.13" stroke="#1010d8" stroke-width="1.5" />
<line x1="465.14" y1="310.10" x2="520.70" y2="306.99" stroke="#e0207a" stroke-width="1.6" />
<circle cx="474.40" cy="296.61" r="1.5" fill="#1a8fa8"/>
<line x1="479.03" y1="287.13" x2="479.03" y2="288.79" stroke="#1a8fa8" stroke-width="1.1" />
<line x1="477.33" y1="287.13" x2="480.73" y2="287.13" stroke="#1a8fa8" stroke-width="1.1" />
<line x1="477.33" y1="288.79" x2="480.73" y2="288.79" stroke="#1a8fa8" stroke-width="1.1" />
<circle cx="479.03" cy="287.96" r="1.5" fill="#1a8fa8"/>
<line x1="497.55" y1="237.79" x2="497.55" y2="259.24" stroke="#1a8fa8" stroke-width="1.1" />
<line x1="495.85" y1="237.79" x2="499.25" y2="237.79" stroke="#1a8fa8" stroke-width="1.1" />
<line x1="495.85" y1="259.24" x2="499.25" y2="259.24" stroke="#1a8fa8" stroke-width="1.1" />
<circle cx="497.55" cy="248.51" r="1.5" fill="#1a8fa8"/>
<line x1="520.70" y1="210.11" x2="520.70" y2="223.95" stroke="#1a8fa8" stroke-width="1.1" />
<line x1="519.00" y1="210.11" x2="522.40" y2="210.11" stroke="#1a8fa8" stroke-width="1.1" />
<line x1="519.00" y1="223.95" x2="522.40" y2="223.95" stroke="#1a8fa8" stroke-width="1.1" />
<circle cx="520.70" cy="217.03" r="1.5" fill="#1a8fa8"/>
<polygon points="474.40,306.22 472.70,309.22 476.10,309.22" fill="#1010d8"/>
<polygon points="479.03,304.84 477.33,307.84 480.73,307.84" fill="#1010d8"/>
<line x1="497.55" y1="299.37" x2="497.55" y2="305.60" stroke="#1010d8" stroke-width="1.1" />
<line x1="495.85" y1="299.37" x2="499.25" y2="299.37" stroke="#1010d8" stroke-width="1.1" />
<line x1="495.85" y1="305.60" x2="499.25" y2="305.60" stroke="#1010d8" stroke-width="1.1" />
<polygon points="497.55,300.69 495.85,303.69 499.25,303.69" fill="#1010d8"/>
<polygon points="520.70,296.19 519.00,299.19 522.40,299.19" fill="#1010d8"/>
<rect x="473.00" y="308.22" width="2.80" height="2.80" fill="#e0207a"/>
<rect x="477.63" y="307.66" width="2.80" height="2.80" fill="#e0207a"/>
<line x1="497.55" y1="306.78" x2="497.55" y2="308.85" stroke="#e0207a" stroke-width="1.1" />
<line x1="495.85" y1="306.78" x2="499.25" y2="306.78" stroke="#e0207a" stroke-width="1.1" />
<line x1="495.85" y1="308.85" x2="499.25" y2="308.85" stroke="#e0207a" stroke-width="1.1" />
<rect x="496.15" y="306.42" width="2.80" height="2.80" fill="#e0207a"/>
<rect x="519.30" y="305.38" width="2.80" height="2.80" fill="#e0207a"/>
<line x1="471.70" y1="310.10" x2="474.40" y2="310.10" stroke="#000" stroke-width="1.4" />
<text x="469.60" y="312.65" font-size="7.0" text-anchor="end" font-weight="bold" fill="#000" color="#000" ></text>
<line x1="471.70" y1="275.50" x2="474.40" y2="275.50" stroke="#000" stroke-width="1.4" />
<text x="469.60" y="278.05" font-size="7.0" text-anchor="end" font-weight="bold" fill="#000" color="#000" >0.5</text>
<line x1="471.70" y1="240.90" x2="474.40" y2="240.90" stroke="#000" stroke-width="1.4" />
<text x="469.60" y="243.45" font-size="7.0" text-anchor="end" font-weight="bold" fill="#000" color="#000" >1.0</text>
<line x1="471.70" y1="206.30" x2="474.40" y2="206.30" stroke="#000" stroke-width="1.4" />
<text x="469.60" y="208.85" font-size="7.0" text-anchor="end" font-weight="bold" fill="#000" color="#000" >1.5</text>
<line x1="451.25" y1="310.10" x2="451.25" y2="313.40" stroke="#000" stroke-width="1.4" />
<text x="451.25" y="321.20" font-size="7.0" text-anchor="middle" font-weight="bold" fill="#000" color="#000" >-5</text>
<line x1="474.40" y1="310.10" x2="474.40" y2="313.40" stroke="#000" stroke-width="1.4" />
<text x="474.40" y="321.20" font-size="7.0" text-anchor="middle" font-weight="bold" fill="#000" color="#000" >0</text>
<line x1="497.55" y1="310.10" x2="497.55" y2="313.40" stroke="#000" stroke-width="1.4" />
<text x="497.55" y="321.20" font-size="7.0" text-anchor="middle" font-weight="bold" fill="#000" color="#000" >5</text>
<line x1="520.70" y1="310.10" x2="520.70" y2="313.40" stroke="#000" stroke-width="1.4" />
<text x="520.70" y="321.20" font-size="7.0" text-anchor="middle" font-weight="bold" fill="#000" color="#000" >10</text>
<text x="493.60" y="331.60" font-size="7.5" text-anchor="middle" font-weight="bold" fill="#000" color="#000" >Nilotinib (<tspan letter-spacing="0.6">µM</tspan>)</text>
<text x="530.00" y="221.80" font-size="7.0" text-anchor="start" font-weight="bold" fill="#000" color="#000" >1 <tspan letter-spacing="0.5">µ</tspan>M</text>
<text x="528.30" y="297.00" font-size="7.0" text-anchor="start" font-weight="bold" fill="#000" color="#000" >10 <tspan letter-spacing="0.5">µ</tspan>M</text>
<text x="528.30" y="310.00" font-size="7.0" text-anchor="start" font-weight="bold" fill="#000" color="#000" >25 <tspan letter-spacing="0.5">µ</tspan>M</text>
<text transform="translate(454.0,257.2) rotate(-90)" font-size="7.5" text-anchor="middle" font-weight="bold">1/v [1/(pmol/mg/min)]</text>
</svg></body></html>
